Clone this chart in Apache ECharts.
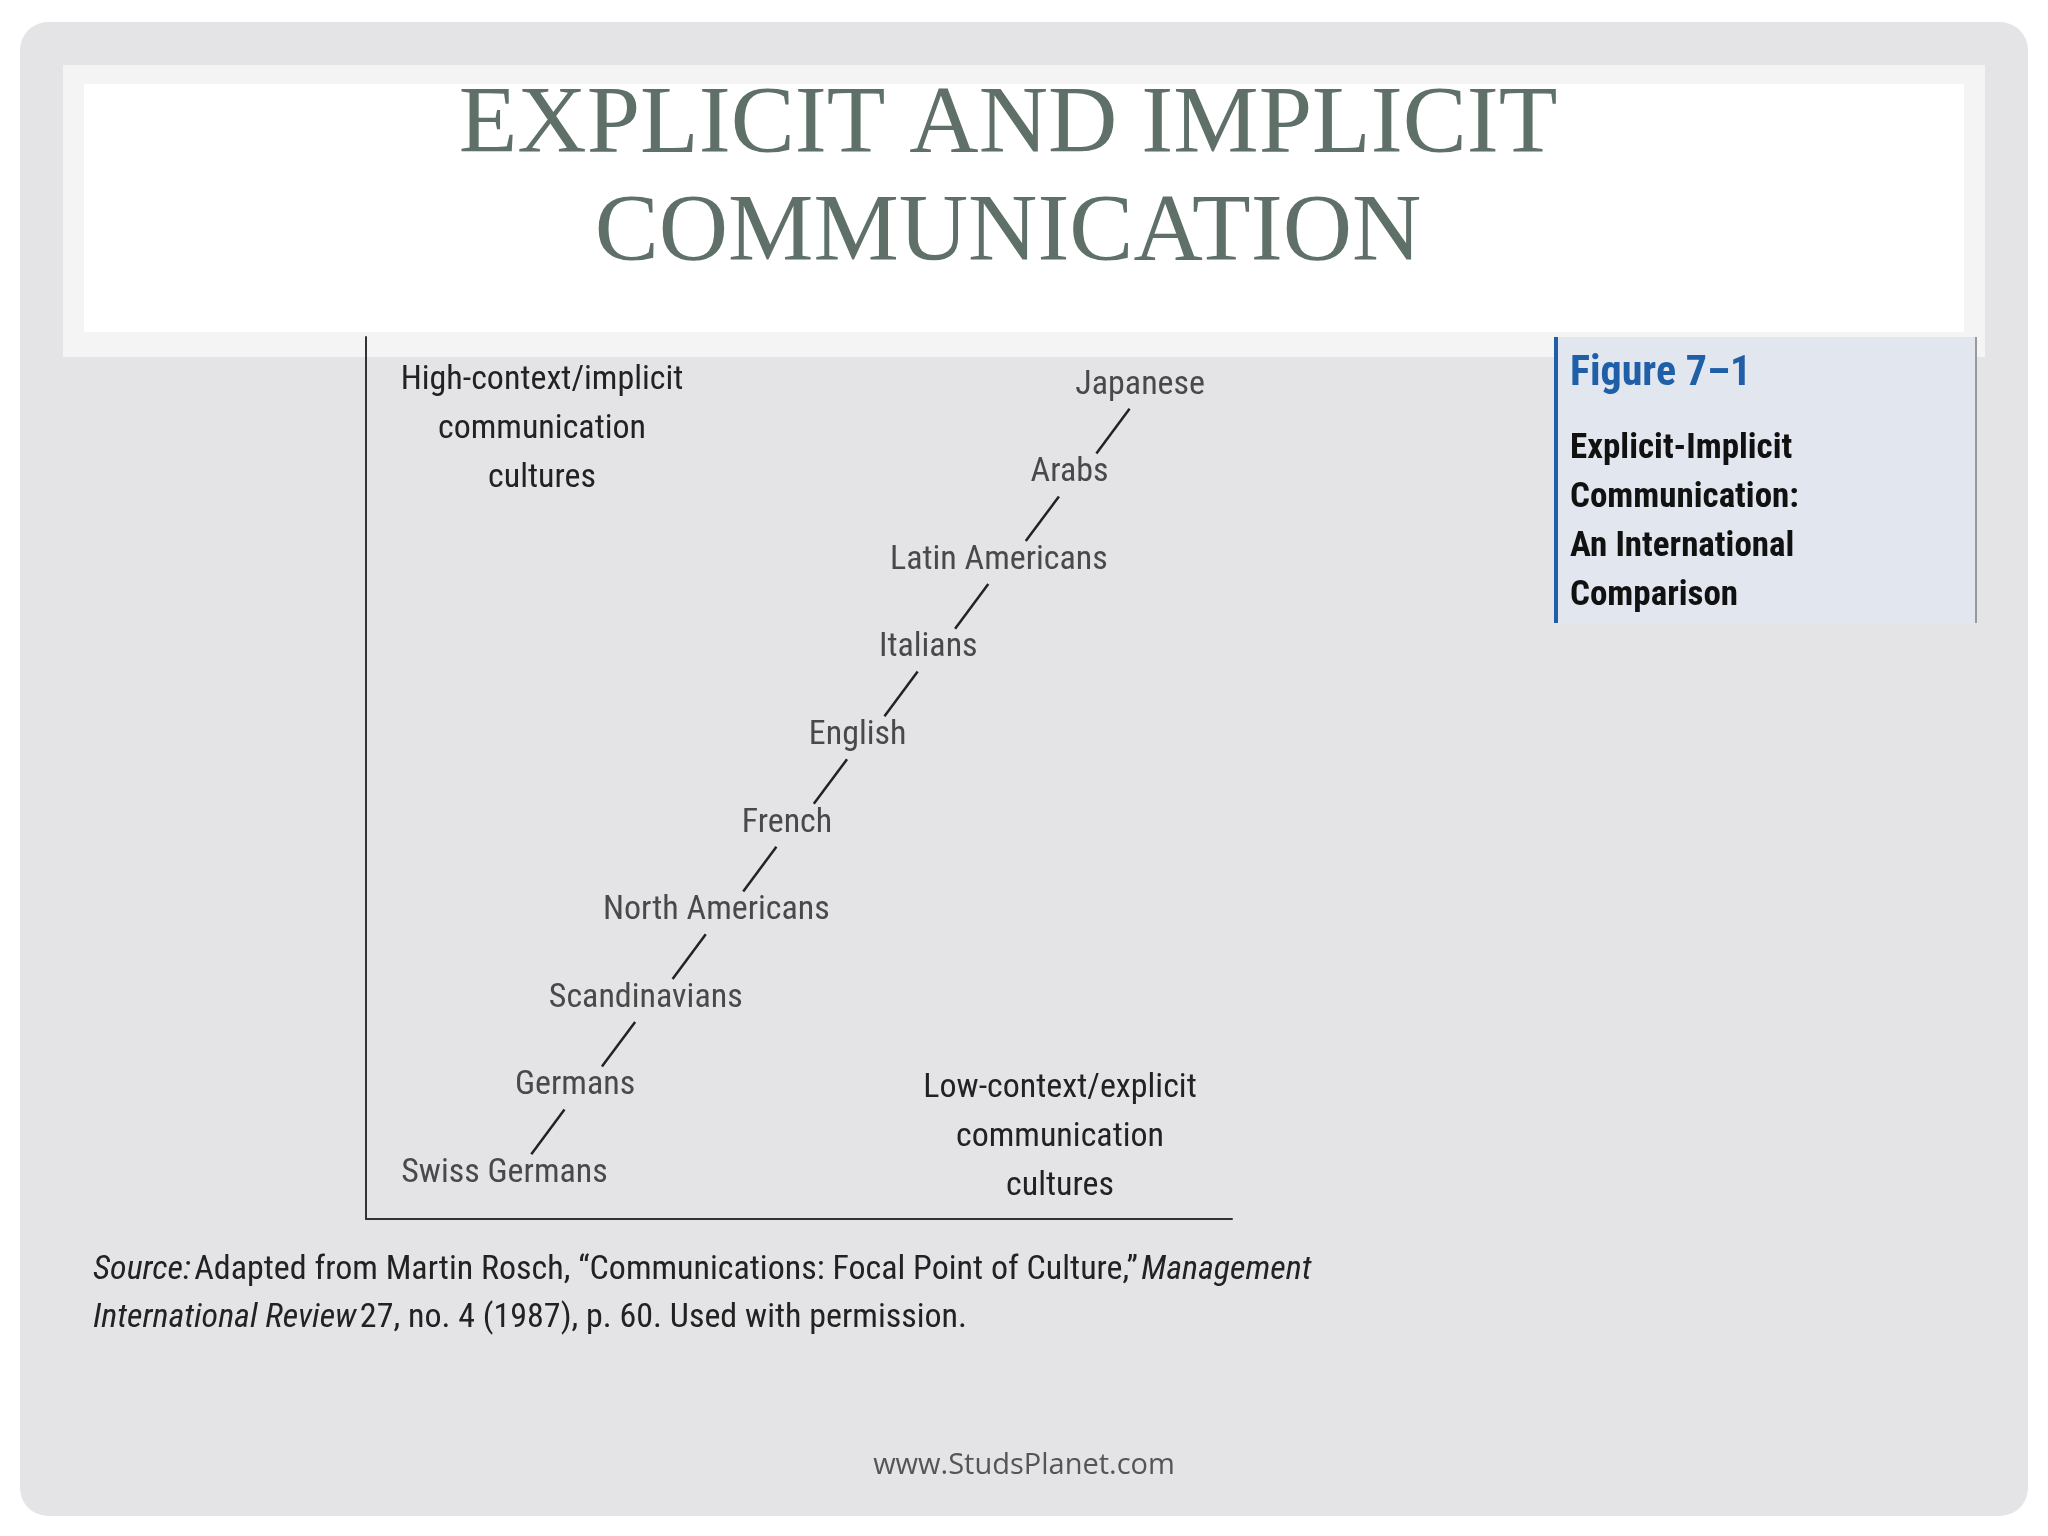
<!DOCTYPE html>
<html><head><meta charset="utf-8">
<script src="https://cdn.jsdelivr.net/npm/echarts@6/dist/echarts.min.js"></script>
<style>html,body{margin:0;padding:0;background:#fff}#c{width:2048px;height:1536px}</style>
</head><body><div id="c"></div>
<script>
// Cultures ordered from low-context (bottom) to high-context (top)
const cultures = ['Swiss Germans','Germans','Scandinavians','North Americans','French','English','Italians','Latin Americans','Arabs','Japanese'];
const explicitRank = [0,1,2,3,4,5,6,7,8,9];
const contextRank  = [0,1,2,3,4,5,6,7,8,9];

const points = cultures.map((c,i)=>({name:c,value:[explicitRank[i],contextRank[i]]}));
const segs = [];
for(let i=0;i<cultures.length-1;i++){
  const a=[explicitRank[i],contextRank[i]], b=[explicitRank[i+1],contextRank[i+1]];
  const dx=b[0]-a[0], dy=b[1]-a[1];
  segs.push({coords:[[a[0]+0.38*dx,a[1]+0.22*dy],[a[0]+0.85*dx,a[1]+0.73*dy]]});
}
const lf = '"Liberation Sans Narrow","Roboto Condensed","DejaVu Sans Condensed",sans-serif';
const chart = echarts.init(document.getElementById('c'));
const txt=(x,y,t,o)=>Object.assign({type:'text',x:x,y:y,style:Object.assign({text:t,fill:'#222',font:'34px '+lf,textAlign:'center',textVerticalAlign:'middle'},o||{})});
chart.setOption({
  animation:false,
  backgroundColor:'#ffffff',
  grid:{left:366,right:816,top:337,bottom:317},
  xAxis:{type:'value',min:-1.96,max:10.3,axisLine:{show:true,onZero:false,lineStyle:{color:'#333',width:2}},axisTick:{show:false},axisLabel:{show:false},splitLine:{show:false}},
  yAxis:{type:'value',min:-0.52,max:9.55,axisLine:{show:true,onZero:false,lineStyle:{color:'#333',width:2}},axisTick:{show:false},axisLabel:{show:false},splitLine:{show:false}},
  graphic:[
    {type:'rect',z:-10,shape:{x:20,y:22,width:2008,height:1494,r:28},style:{fill:'#e4e4e7'}},
    {type:'rect',z:-9,shape:{x:63,y:65,width:1922,height:292},style:{fill:'#f4f4f5'}},
    {type:'rect',z:-9,shape:{x:84,y:84,width:1880,height:248},style:{fill:'#ffffff'}},
    txt(1008,127,'EXPLICIT AND IMPLICIT',{fill:'#5f7068',font:'96px "Liberation Serif",serif'}),
    txt(1008,235,'COMMUNICATION',{fill:'#5f7068',font:'96px "Liberation Serif",serif'}),
    {type:'rect',shape:{x:1554,y:337,width:423,height:286},style:{fill:'#e1e6ef'}},
    {type:'rect',shape:{x:1554,y:337,width:4,height:286},style:{fill:'#1f5fa8'}},
    {type:'rect',shape:{x:1975,y:337,width:2,height:286},style:{fill:'#999'}},
    txt(1570,374,'Figure 7–1',{fill:'#1f5fa8',font:'bold 42px '+lf,textAlign:'left'}),
    txt(1570,449,'Explicit-Implicit',{fill:'#111',font:'bold 35px '+lf,textAlign:'left'}),
    txt(1570,498,'Communication:',{fill:'#111',font:'bold 35px '+lf,textAlign:'left'}),
    txt(1570,547,'An International',{fill:'#111',font:'bold 35px '+lf,textAlign:'left'}),
    txt(1570,596,'Comparison',{fill:'#111',font:'bold 35px '+lf,textAlign:'left'}),
    txt(542,380,'High-context/implicit'),txt(542,429,'communication'),txt(542,478,'cultures'),
    txt(1060,1088,'Low-context/explicit'),txt(1060,1137,'communication'),txt(1060,1186,'cultures'),
    {type:'text',x:93,y:1270,style:{rich:{i:{font:'italic 34px '+lf,fill:'#222'},n:{font:'34px '+lf,fill:'#222'}},text:'{i|Source:} {n|Adapted from Martin Rosch, “Communications: Focal Point of Culture,”} {i|Management}',textVerticalAlign:'middle'}},
    {type:'text',x:93,y:1318,style:{rich:{i:{font:'italic 34px '+lf,fill:'#222'},n:{font:'34px '+lf,fill:'#222'}},text:'{i|International Review} {n|27, no. 4 (1987), p. 60. Used with permission.}',textVerticalAlign:'middle'}},
    txt(1024,1466,'www.StudsPlanet.com',{fill:'#555',font:'29px "Open Sans",sans-serif'})
  ],
  series:[
    {type:'scatter',data:points,symbolSize:0,label:{show:true,position:'inside',formatter:'{b}',color:'#222',fontSize:34,fontFamily:lf}},
    {type:'lines',coordinateSystem:'cartesian2d',data:segs,lineStyle:{color:'#222',width:2.5,opacity:1},symbol:'none'}
  ]
});
</script></body></html>
